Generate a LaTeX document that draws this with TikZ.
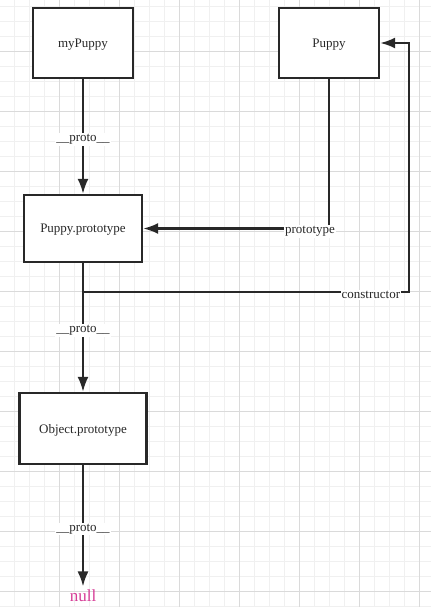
\documentclass[tikz,border=0pt]{standalone}
\usepackage{fontspec}
\setmainfont{Liberation Serif}
\usetikzlibrary{arrows.meta}
\definecolor{darkline}{RGB}{40,40,40}
\definecolor{nullpink}{RGB}{214,60,150}
\definecolor{gridminor}{RGB}{240,240,240}
\definecolor{gridmajor}{RGB}{218,218,218}

\begin{document}
\begin{tikzpicture}[x=1pt, y=-1pt,
  box/.style={draw=darkline, line width=2.3pt, fill=white, text=darkline, text depth=0pt,
    minimum width=#1, minimum height=70pt, font=\fontsize{13}{15}\selectfont},
  line/.style={line width=2.3pt, draw=darkline, >={Latex[length=15pt,width=11pt]}},
  lbl/.style={fill=white, inner sep=1pt, yshift=-3pt, text=darkline, font=\fontsize{13}{15}\selectfont}]
\useasboundingbox (0,0) rectangle (431,607);

% background grid
\foreach \x in {14,29,...,431} \draw[gridminor, line width=0.8pt] (\x,0) -- (\x,607);
\foreach \y in {6.7,21.7,...,607} \draw[gridminor, line width=0.8pt] (0,\y) -- (431,\y);
\foreach \x in {59,119,...,431} \draw[gridmajor, line width=0.8pt] (\x,0) -- (\x,607);
\foreach \y in {51.7,111.7,...,607} \draw[gridmajor, line width=0.8pt] (0,\y) -- (431,\y);

\node[box=100pt] (myPuppy) at (83,43) {myPuppy};
\node[box=100pt] (Puppy) at (329,43) {Puppy};
\node[box=118pt, minimum height=67pt] (PuppyProto) at (83,228.5) {Puppy.prototype};
\node[box=127pt, minimum height=71pt] (ObjectProto) at (83,428.5) {Object.prototype};
\node[text=nullpink, font=\fontsize{17}{20}\selectfont] (null) at (83,596) {null};
\coordinate (ctorStart) at (83,292);

\draw[->, line] (myPuppy) -- node [lbl] {\_\_proto\_\_} (PuppyProto);
\draw[->, line] (Puppy) |- node [lbl, xshift=-19pt] {prototype} (PuppyProto);
\draw[->, line] (ctorStart) -- node [lbl, pos=0.883] {constructor} (409,292) |- (Puppy.east);
\draw[->, line] (PuppyProto) -- node [lbl] {\_\_proto\_\_} (ObjectProto);
\draw[->, line] (ObjectProto) -- node [lbl] {\_\_proto\_\_} (null);

\end{tikzpicture}
\end{document}
